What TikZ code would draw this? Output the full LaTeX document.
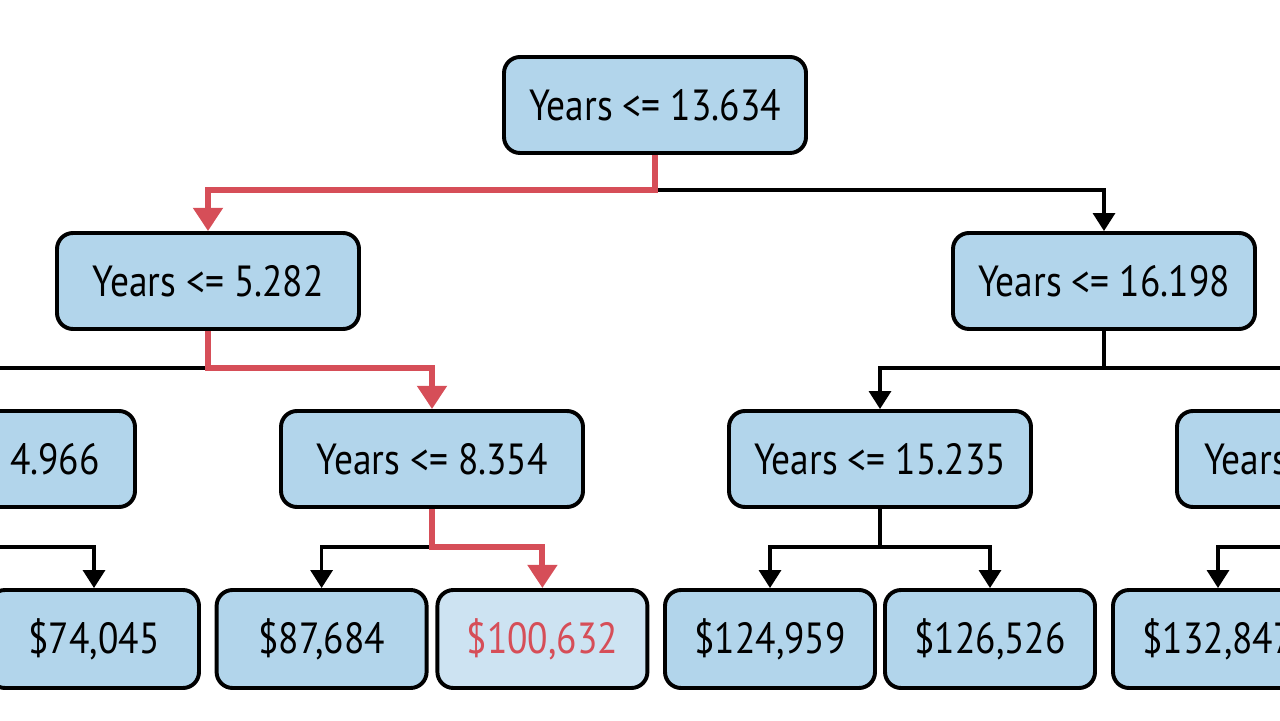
\documentclass[tikz,border=0pt]{standalone}
\usepackage{fontspec}
\setmainfont[FakeStretch=0.86]{PT Sans}
\usetikzlibrary{calc,arrows.meta}

\definecolor{boxblue}{RGB}{178,213,235}
\definecolor{hiblue}{RGB}{205,227,242}
\definecolor{pathred}{RGB}{214,78,88}

\tikzset{
  split/.style={draw=black, line width=2.8pt, fill=boxblue, rounded corners=0.4cm,
    minimum width=7.55cm, minimum height=2.4cm, font=\fontsize{31}{36}\selectfont},
  leaf/.style={split, minimum width=5.25cm, minimum height=2.45cm},
  edge/.style={draw=black, line width=2.4pt, -{Triangle[width=0.55cm,length=0.45cm]}},
  hot/.style={draw=pathred, line width=4.4pt, -{Triangle[width=0.72cm,length=0.58cm]}}
}

\begin{document}
\begin{tikzpicture}

\useasboundingbox (0,0) rectangle (32,18);
\clip (0,0) rectangle (32,18);

% bus heights
\def\busA{13.25}
\def\busB{8.8}
\def\busC{4.325}

% split nodes
\node[split] (root) at (16.375,15.375) {Years <= 13.634};
\node[split] (l1) at (5.2,10.975) {Years <= 5.282};
\node[split] (r1) at (27.6,10.975) {Years <= 16.198};

\node[split] (ll2) at (-0.4,6.525) {Years <= 4.966};
\node[split] (lr2) at (10.8,6.525) {Years <= 8.354};
\node[split] (rl2) at (22.0,6.525) {Years <= 15.235};
\node[split] (rr2) at (33.2,6.525) {Years <= 17.019};

% leaves
\node[leaf] (llb) at (2.35,2.025) {\$74,045};
\node[leaf] (lra) at (8.04,2.025) {\$87,684};
\node[leaf, fill=hiblue, text=pathred] (lrb) at (13.56,2.025) {\$100,632};
\node[leaf] (rla) at (19.25,2.025) {\$124,959};
\node[leaf] (rlb) at (24.75,2.025) {\$126,526};
\node[leaf] (rra) at (30.45,2.025) {\$132,847};

% off-picture ends
\coordinate (lla) at (-5.15,3.25);
\coordinate (rrb) at (35.95,3.25);

% black connectors
\draw[edge] (root.south) -- (root.south |- 0,\busA) -| (r1.north);
\draw[edge] (l1.south) -- (l1.south |- 0,\busB) -| (ll2.north);
\draw[edge] (r1.south) -- (r1.south |- 0,\busB) -| (rl2.north);
\draw[edge] (r1.south) -- (r1.south |- 0,\busB) -| (rr2.north);
\draw[edge] (ll2.south) -- (ll2.south |- 0,\busC) -| (lla);
\draw[edge] (ll2.south) -- (ll2.south |- 0,\busC) -| (llb.north);
\draw[edge] (lr2.south) -- (lr2.south |- 0,\busC) -| (lra.north);
\draw[edge] (rl2.south) -- (rl2.south |- 0,\busC) -| (rla.north);
\draw[edge] (rl2.south) -- (rl2.south |- 0,\busC) -| (rlb.north);
\draw[edge] (rr2.south) -- (rr2.south |- 0,\busC) -| (rra.north);
\draw[edge] (rr2.south) -- (rr2.south |- 0,\busC) -| (rrb);

% highlighted path
\draw[hot] (root.south) -- (root.south |- 0,\busA) -| (l1.north);
\draw[hot] (l1.south) -- (l1.south |- 0,\busB) -| (lr2.north);
\draw[hot] (lr2.south) -- (lr2.south |- 0,\busC) -| (lrb.north);

\end{tikzpicture}
\end{document}
